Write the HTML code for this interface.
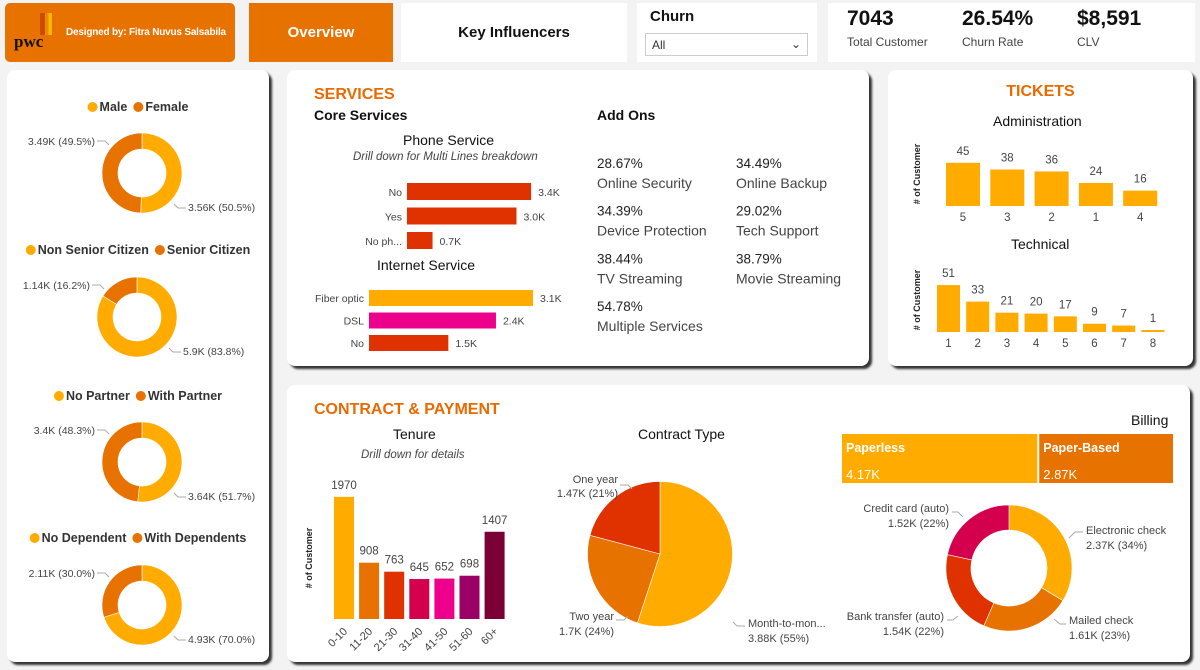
<!DOCTYPE html>
<html><head><meta charset="utf-8">
<style>
body{margin:0;width:1200px;height:670px;background:#f3f3f3;font-family:"Liberation Sans",sans-serif;position:relative;overflow:hidden}
.p{position:absolute;background:#fff;border-radius:8px;box-shadow:3px 3px 2px #333}
.t{position:absolute;white-space:nowrap}
svg{position:absolute;left:0;top:0}
</style></head><body>
<div class="p" style="left:5px;top:3px;width:230px;height:59px;background:#e87200;box-shadow:none;border-radius:5px"></div>
<div class="t" style="left:40px;top:13px;width:12px;height:22px;background:linear-gradient(90deg,#d04a02 0 40%,#eb8c00 40% 70%,#ffb600 70%)"></div>
<div class="t" style="left:14px;top:32px;font:bold 17px 'Liberation Serif',serif;color:#111">pwc</div>
<div class="t" style="left:66px;top:27px;font-weight:bold;font-size:10px;letter-spacing:-0.2px;color:#fff">Designed by: Fitra Nuvus Salsabila</div>
<div class="p" style="left:249px;top:3px;width:144px;height:59px;background:#e87200;box-shadow:none;border-radius:0"></div>
<div class="t" style="left:249px;width:144px;text-align:center;top:24px;font-weight:bold;font-size:15px;color:#fff">Overview</div>
<div class="p" style="left:401px;top:3px;width:226px;height:59px;box-shadow:none;border-radius:0"></div>
<div class="t" style="left:401px;width:226px;text-align:center;top:24px;font-weight:bold;font-size:15px;color:#111">Key Influencers</div>
<div class="p" style="left:637px;top:3px;width:180px;height:59px;box-shadow:none;border-radius:0"></div>
<div class="t" style="left:650px;top:8px;font-weight:bold;font-size:15px;color:#111">Churn</div>
<div class="t" style="left:645px;top:33px;width:163px;height:23px;border:1px solid #ccc;font-size:12px;color:#333;line-height:23px;padding-left:6px;box-sizing:border-box">All<span style="position:absolute;right:6px;top:-1px;font-size:12px">&#8964;</span></div>
<div class="p" style="left:828px;top:3px;width:367px;height:59px;box-shadow:none;border-radius:0"></div>
<div class="t" style="left:847px;top:7px;font-weight:bold;font-size:21px;color:#111">7043</div>
<div class="t" style="left:847px;top:35px;font-size:12px;color:#444">Total Customer</div>
<div class="t" style="left:962px;top:7px;font-weight:bold;font-size:21px;color:#111">26.54%</div>
<div class="t" style="left:962px;top:35px;font-size:12px;color:#444">Churn Rate</div>
<div class="t" style="left:1077px;top:7px;font-weight:bold;font-size:21px;color:#111">$8,591</div>
<div class="t" style="left:1077px;top:35px;font-size:12px;color:#444">CLV</div>

<div class="p" style="left:7px;top:70px;width:262px;height:592px"></div>
<div class="p" style="left:287px;top:70px;width:582px;height:296px"></div>
<div class="p" style="left:888px;top:70px;width:305px;height:296px"></div>
<div class="p" style="left:287px;top:385px;width:903px;height:277px"></div>

<div class="t" style="left:314px;top:86px;font-weight:bold;font-size:16px;color:#e86a00">SERVICES</div>
<div class="t" style="left:314px;top:107px;font-weight:bold;font-size:14px;color:#111">Core Services</div>
<div class="t" style="left:403px;top:132px;font-size:14px;color:#111">Phone Service</div>
<div class="t" style="left:353px;top:151px;font-style:italic;font-size:11.5px;color:#444">Drill down for Multi Lines breakdown</div>
<div class="t" style="left:377px;top:257px;font-size:14px;color:#111">Internet Service</div>
<div class="t" style="left:597px;top:107px;font-weight:bold;font-size:14px;color:#111">Add Ons</div>

<div class="t" style="left:888px;width:305px;text-align:center;top:83px;font-weight:bold;font-size:16px;color:#e86a00">TICKETS</div>
<div class="t" style="left:993px;top:113px;font-size:14px;color:#111">Administration</div>
<div class="t" style="left:1011px;top:236px;font-size:14px;color:#111">Technical</div>

<div class="t" style="left:314px;top:401px;font-weight:bold;font-size:16px;color:#e86a00">CONTRACT &amp; PAYMENT</div>
<div class="t" style="left:393px;top:426px;font-size:14px;color:#111">Tenure</div>
<div class="t" style="left:361px;top:449px;font-style:italic;font-size:11.5px;color:#444">Drill down for details</div>
<div class="t" style="left:638px;top:426px;font-size:14px;color:#111">Contract Type</div>
<div class="t" style="left:1131px;top:412px;font-size:14px;color:#111">Billing</div>

<svg id="s" width="1200" height="670"></svg>
<script>
// ---- data ----
const demoLabels=[["Male","Female"],["Non Senior Citizen","Senior Citizen"],["No Partner","With Partner"],["No Dependent","With Dependents"]];
const demoValues=[[3.56,3.49],[5.9,1.14],[3.64,3.4],[4.93,2.11]];
const demoText=[["3.56K (50.5%)","3.49K (49.5%)"],["5.9K (83.8%)","1.14K (16.2%)"],["3.64K (51.7%)","3.4K (48.3%)"],["4.93K (70.0%)","2.11K (30.0%)"]];
const phoneCats=["No","Yes","No ph..."];
const phoneVals=[3.4,3.0,0.7];
const netCats=["Fiber optic","DSL","No"];
const netVals=[3.1,2.4,1.5];
const addonPct=["28.67%","34.49%","34.39%","29.02%","38.44%","38.79%","54.78%"];
const addonNames=["Online Security","Online Backup","Device Protection","Tech Support","TV Streaming","Movie Streaming","Multiple Services"];
const adminCats=["5","3","2","1","4"];
const adminVals=[45,38,36,24,16];
const techCats=["1","2","3","4","5","6","7","8"];
const techVals=[51,33,21,20,17,9,7,1];
const tenureCats=["0-10","11-20","21-30","31-40","41-50","51-60","60+"];
const tenureVals=[1970,908,763,645,652,698,1407];
const contractCats=["Month-to-month","Two year","One year"];
const contractVals=[3.88,1.7,1.47];
const billingCats=["Paperless","Paper-Based"];
const billingVals=[4.17,2.87];
const payCats=["Electronic check","Mailed check","Bank transfer (auto)","Credit card (auto)"];
const payVals=[2.37,1.61,1.54,1.52];
const payText=["2.37K (34%)","1.61K (23%)","1.54K (22%)","1.52K (22%)"];

const Y="#ffab00",O="#e87200",R="#e03200",C="#d4004e";
const S=document.getElementById('s');
const NS="http://www.w3.org/2000/svg";
function el(t,a,txt){const e=document.createElementNS(NS,t);for(const k in a)e.setAttribute(k,a[k]);if(txt!==undefined)e.textContent=txt;S.appendChild(e);return e;}
function tx(x,y,s,o){o=o||{};return el('text',Object.assign({x:x,y:y,'font-size':11,fill:'#444','font-family':'Liberation Sans, sans-serif'},o),s);}
function arc(cx,cy,r0,r1,a0,a1){
 const p=(r,a)=>[cx+r*Math.sin(a),cy-r*Math.cos(a)];const lg=a1-a0>Math.PI?1:0;
 const [x0,y0]=p(r1,a0),[x1,y1]=p(r1,a1);
 if(r0<=0){return `M${cx},${cy}L${x0},${y0}A${r1},${r1} 0 ${lg} 1 ${x1},${y1}Z`;}
 const [x2,y2]=p(r0,a1),[x3,y3]=p(r0,a0);
 return `M${x0},${y0}A${r1},${r1} 0 ${lg} 1 ${x1},${y1}L${x2},${y2}A${r0},${r0} 0 ${lg} 0 ${x3},${y3}Z`;}
function ring(cx,cy,r0,r1,vals,cols,name){
 const tot=vals.reduce((a,b)=>a+b,0);let a=0;
 vals.forEach((v,i)=>{const b=a+v/tot*2*Math.PI;
  const e=el('path',{d:arc(cx,cy,r0,r1,a,b),fill:cols[i],stroke:'#fff','stroke-width':0.6});
  
  
  a=b;});}

// ---- demographics donuts ----
const dCy=[173,317,462,605],dCx=[142,137,142,142],legY=[111,254,400,542];
demoValues.forEach((vals,i)=>{
 const cx=dCx[i],cy=dCy[i];
 ring(cx,cy,24,40,vals,[Y,O],'demographic-donut-'+i);
 const l=demoLabels[i];
 const t1=tx(0,legY[i],l[0],{'font-size':12.5,'font-weight':'bold',fill:'#333'});
 const t2=tx(0,legY[i],l[1],{'font-size':12.5,'font-weight':'bold',fill:'#333'});
 const w0=t1.getComputedTextLength()+14,w1=t2.getComputedTextLength()+12;
 const st=138-(w0+w1+4)/2;
 t1.setAttribute('x',st+12);t2.setAttribute('x',st+w0+16);
 const c1=el('circle',{cx:st+5,cy:legY[i]-4,r:5,fill:Y});
 const c2=el('circle',{cx:st+w0+9,cy:legY[i]-4,r:5,fill:O});
 tx(cx+46,cy+38,demoText[i][0],{'font-size':10.5});
 tx(cx-47,cy-28,demoText[i][1],{'font-size':10.5,'text-anchor':'end'});
 el('path',{d:`M${cx+44},${cy+35}h-8l-4,-4`,stroke:'#aaa',fill:'none'});
 el('path',{d:`M${cx-45},${cy-32}h8l4,4`,stroke:'#aaa',fill:'none'});
});

// ---- services bars ----
function hbars(cats,vals,x0,y0,step,h,scale,cols,name){
 cats.forEach((c,i)=>{const y=y0+i*step,w=vals[i]*scale;
  const r=el('rect',{x:x0,y:y,width:w,height:h,fill:cols[i]});
  
  
  tx(x0-5,y+h-4,c,{'text-anchor':'end','font-size':10.5});
  tx(x0+w+7,y+h-4,vals[i].toFixed(1)+'K',{'font-size':10.5});});}
hbars(phoneCats,phoneVals,407,183,24.5,17,36.5,[R,R,R],'phone-service');
hbars(netCats,netVals,369,290,22.5,16,52.9,[Y,"#ec008c",R],'internet-service');

addonPct.forEach((p,i)=>{const x=i%2?736:597,y=168+Math.floor(i/2)*47.7;
 tx(x,y,p,{'font-size':13.5,fill:'#222'});tx(x,y+20,addonNames[i],{'font-size':14,fill:'#444'});});

// ---- tickets ----
function vbars(cats,vals,x0,bw,step,base,scale,col,name,lab){
 cats.forEach((c,i)=>{const x=x0+i*step,h=Math.max(vals[i]*scale,2);
  const r=el('rect',{x:x,y:base-h,width:bw,height:h,fill:col[i%col.length]});
  
  
  tx(x+bw/2,base-h-8,String(vals[i]),{'text-anchor':'middle','font-size':11.5});
  if(lab)tx(x+bw/2,base+15,c,{'text-anchor':'middle','font-size':11.5});});}
vbars(adminCats,adminVals,946,34,44.3,206,0.96,[Y],'admin-tickets',true);
vbars(techCats,techVals,937,23,29.2,332,0.92,[Y],'tech-tickets',true);
tx(920,174,'# of Customer',{'font-size':9,'font-weight':'bold',fill:'#222',transform:'rotate(-90 920 174)','text-anchor':'middle'});
tx(920,300,'# of Customer',{'font-size':9,'font-weight':'bold',fill:'#222',transform:'rotate(-90 920 300)','text-anchor':'middle'});

// ---- tenure ----
vbars(tenureCats,tenureVals,334,20,25.1,619,0.062,[Y,O,R,C,"#ec008c","#9b0066","#7a0036"],'tenure',false);
tenureCats.forEach((c,i)=>{const x=334+i*25.1+14;tx(x,632,c,{'text-anchor':'end','font-size':11,transform:`rotate(-45 ${x} 632)`});});
tx(312,558,'# of Customer',{'font-size':9,'font-weight':'bold',fill:'#222',transform:'rotate(-90 312 558)','text-anchor':'middle'});

// ---- contract pie ----
ring(660,554,0,72.5,contractVals,[Y,O,R],'contract-type');
tx(748,627,'Month-to-mon...',{'font-size':11});tx(748,642,'3.88K (55%)',{'font-size':11});
tx(614,620,'Two year',{'font-size':11,'text-anchor':'end'});tx(614,635,'1.7K (24%)',{'font-size':11,'text-anchor':'end'});
tx(618,483,'One year',{'font-size':11,'text-anchor':'end'});tx(618,497,'1.47K (21%)',{'font-size':11,'text-anchor':'end'});
el('path',{d:'M745,626h-8l-4,-4',stroke:'#aaa',fill:'none'});
el('path',{d:'M616,620h8l4,-4',stroke:'#aaa',fill:'none'});
el('path',{d:'M620,485h8l4,4',stroke:'#aaa',fill:'none'});

// ---- billing treemap ----
const bt=billingVals[0]+billingVals[1],bx0=842,bw=333;
let bx=bx0;
billingCats.forEach((c,i)=>{const w=billingVals[i]/bt*bw;
 const r=el('rect',{x:bx,y:434,width:w-2,height:49,fill:i?O:Y});
 
 
 tx(bx+4,452,c,{'font-size':12.5,'font-weight':'bold',fill:'#fff'});
 tx(bx+4,479,billingVals[i].toFixed(2)+'K',{'font-size':13,fill:'#fff'});
 bx+=w;});

// ---- payment donut ----
ring(1009,568,38,63,payVals,[Y,O,R,C],'payment-method');
const pl=[[1086,534,'start'],[1069,624,'start'],[944,620,'end'],[949,512,'end']];
payCats.forEach((c,i)=>{tx(pl[i][0],pl[i][1],c,{'font-size':11,'text-anchor':pl[i][2]});tx(pl[i][0],pl[i][1]+15,payText[i],{'font-size':11,'text-anchor':pl[i][2]});});
el('path',{d:'M1083,532h-8l-6,6',stroke:'#aaa',fill:'none'});
el('path',{d:'M1066,624h-6l-6,-5',stroke:'#aaa',fill:'none'});
el('path',{d:'M947,620h6l5,-4',stroke:'#aaa',fill:'none'});
el('path',{d:'M952,512h6l5,5',stroke:'#aaa',fill:'none'});
</script>
</body></html>
